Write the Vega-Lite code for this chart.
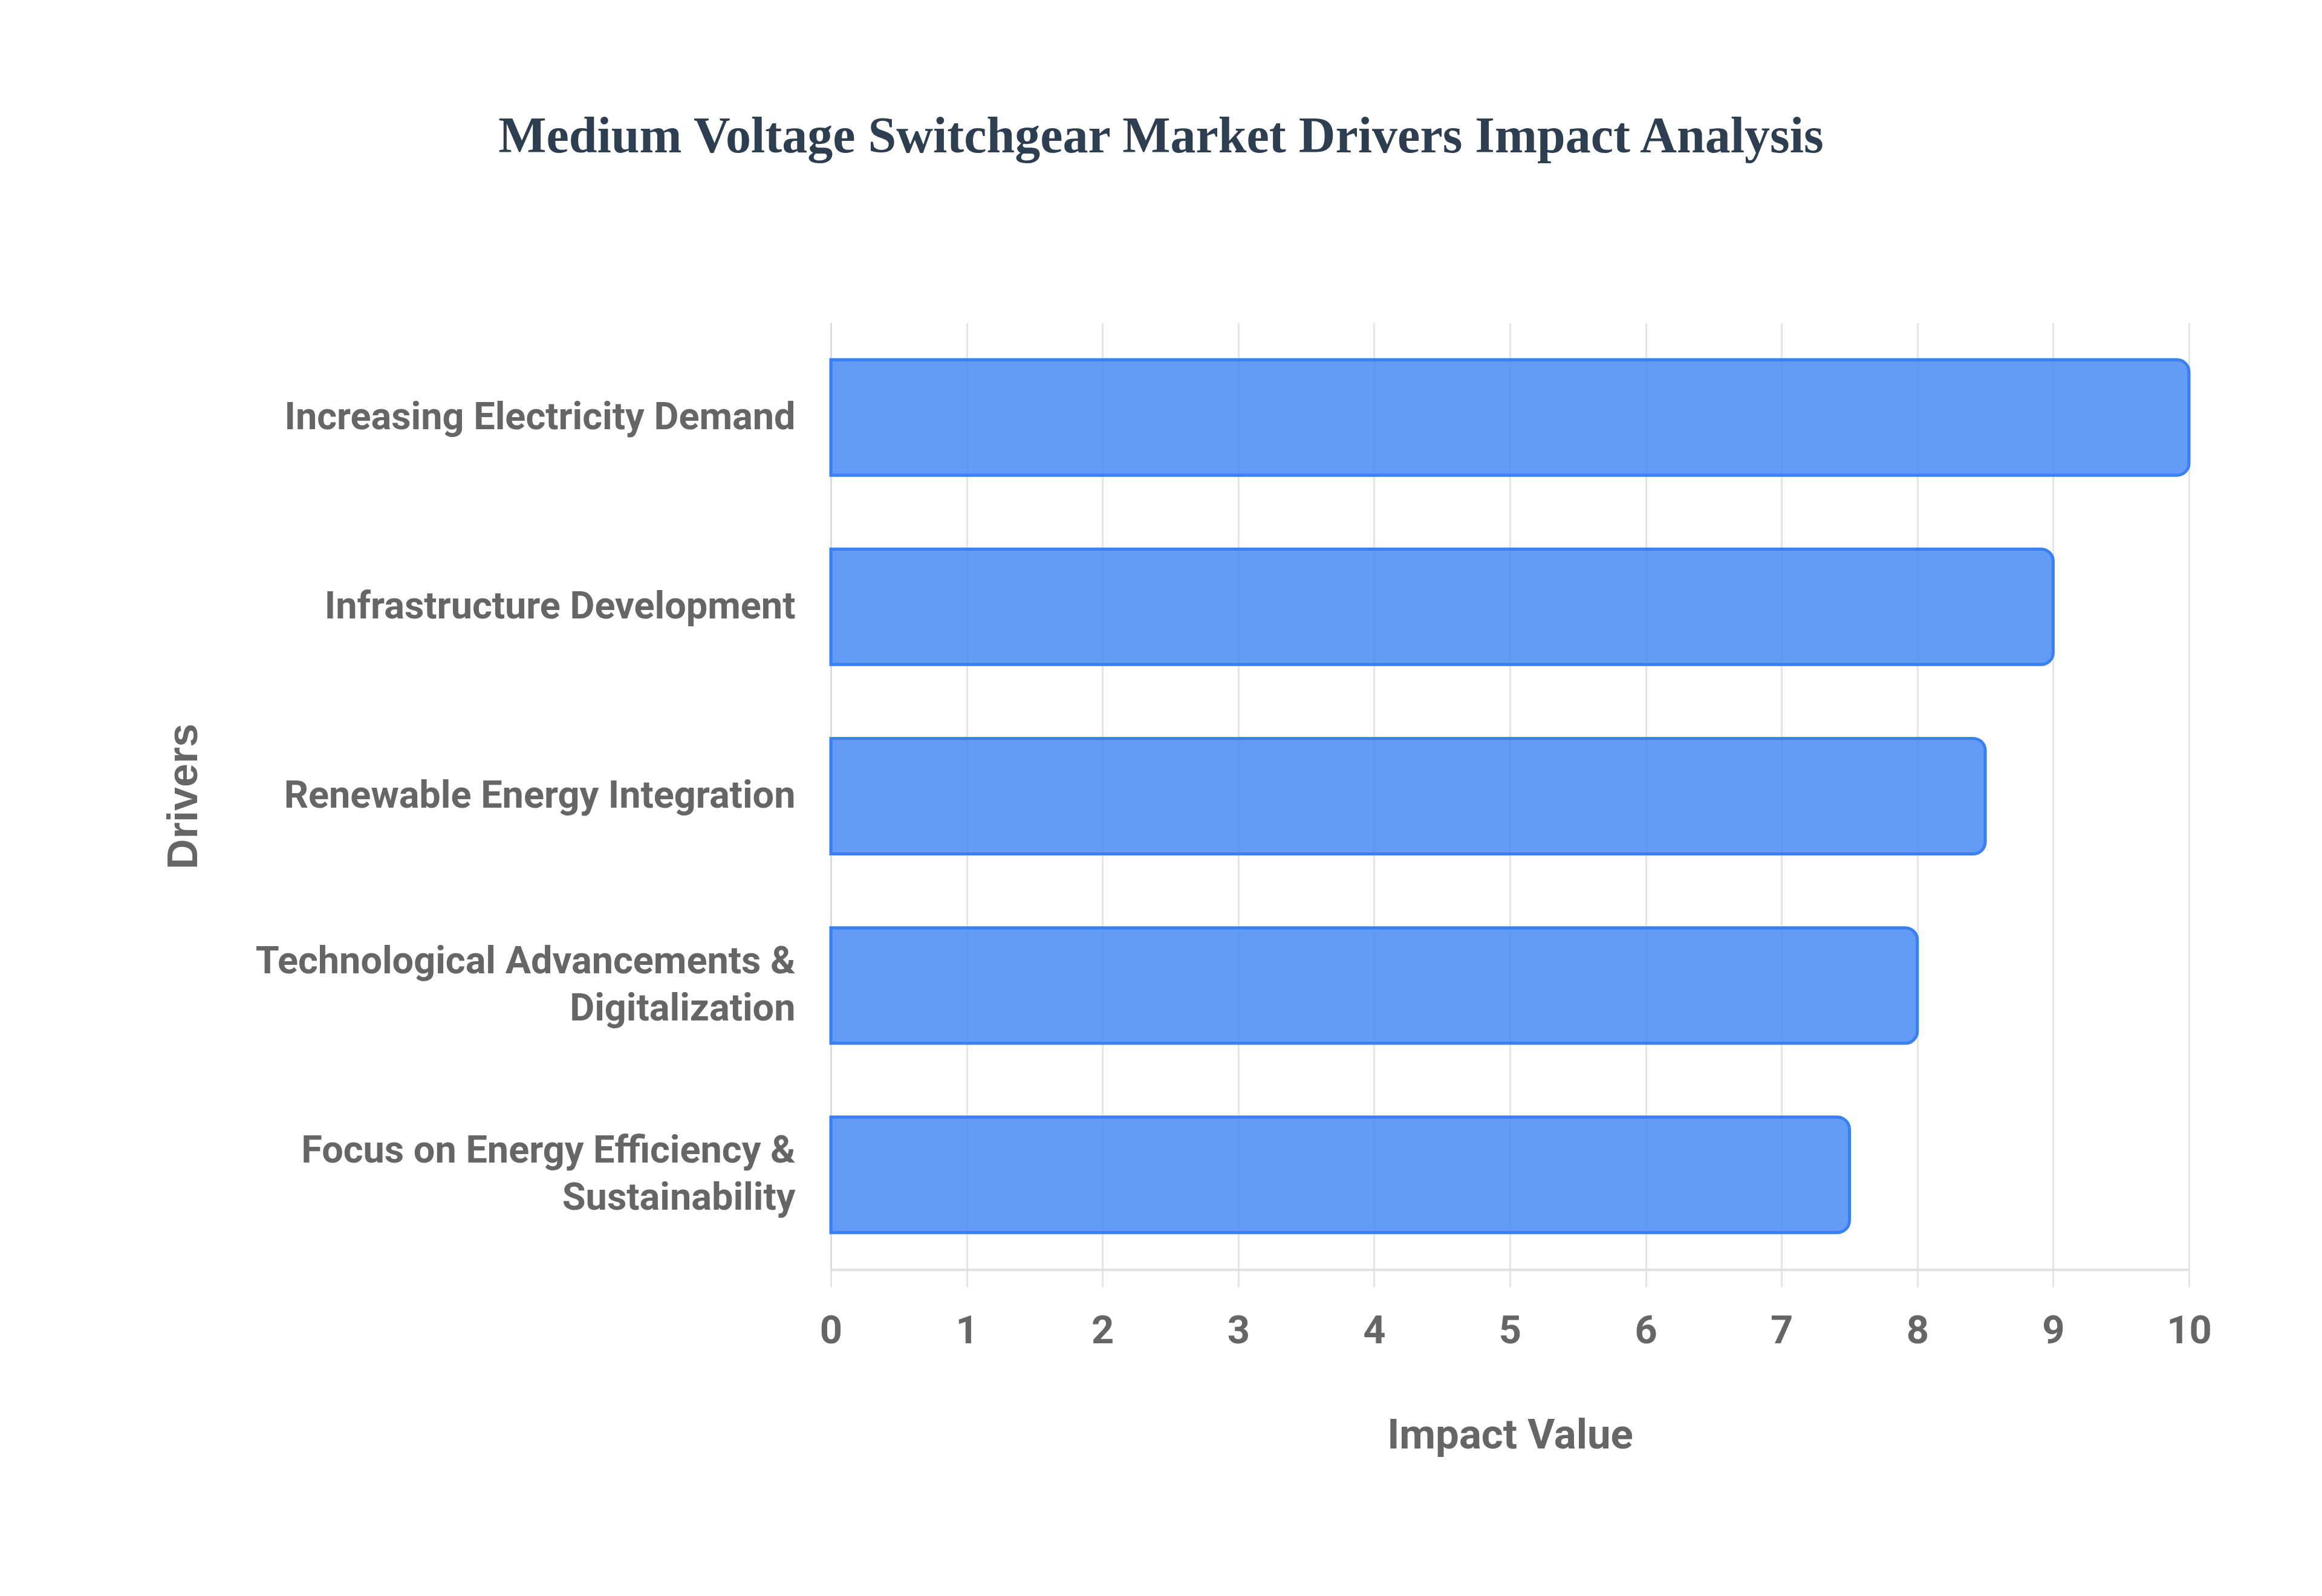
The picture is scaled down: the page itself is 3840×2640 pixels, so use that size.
{
  "$schema": "https://vega.github.io/schema/vega-lite/v6.json",
  "width": 2246,
  "height": 1566,
  "autosize": {"type": "none"},
  "padding": {"left": 1374, "top": 534, "right": 220, "bottom": 540},
  "background": "white",
  "title": {
    "text": "Medium Voltage Switchgear Market Drivers Impact Analysis",
    "font": "Liberation Serif",
    "fontSize": 84,
    "fontWeight": "bold",
    "color": "#2c3e50",
    "anchor": "middle",
    "frame": "group",
    "baseline": "alphabetic",
    "offset": 198,
    "dx": -577
  },
  "data": {
    "values": [
      {"driver": "Increasing Electricity Demand", "impact": 10},
      {"driver": "Infrastructure Development", "impact": 9},
      {"driver": "Renewable Energy Integration", "impact": 8.5},
      {"driver": "Technological Advancements & Digitalization", "impact": 8},
      {"driver": "Focus on Energy Efficiency & Sustainability", "impact": 7.5}
    ]
  },
  "mark": {
    "type": "bar",
    "fill": "#4285F4",
    "fillOpacity": 0.82,
    "stroke": "#3b80f2",
    "strokeWidth": 5,
    "cornerRadiusEnd": 20
  },
  "encoding": {
    "y": {
      "field": "driver",
      "type": "nominal",
      "sort": null,
      "scale": {"paddingInner": 0.39, "paddingOuter": 0.195},
      "axis": {
        "title": "Drivers",
        "titleFont": "Liberation Sans",
        "titleFontSize": 70,
        "titleFontWeight": "bold",
        "titleColor": "#666666",
        "titleX": -1034,
        "labelFont": "Roboto",
        "labelFontSize": 63,
        "labelFontWeight": "bold",
        "labelColor": "#666666",
        "labelPadding": 59,
        "labelLimit": 2000,
        "labelLineHeight": 78,
        "labelOffset": {"condition": {"test": "indexof(datum.value, '&') >= 0", "value": -39}, "value": 0},
        "labelExpr": "datum.value == 'Technological Advancements & Digitalization' ? ['Technological Advancements &', 'Digitalization'] : datum.value == 'Focus on Energy Efficiency & Sustainability' ? ['Focus on Energy Efficiency &', 'Sustainability'] : datum.value",
        "ticks": false,
        "domain": true,
        "domainColor": "#dddddd",
        "domainWidth": 3,
        "grid": false
      }
    },
    "x": {
      "field": "impact",
      "type": "quantitative",
      "scale": {"domain": [0, 10], "nice": false},
      "axis": {
        "title": "Impact Value",
        "titleFont": "Roboto",
        "titleFontSize": 69,
        "titleFontWeight": "bold",
        "titleColor": "#666666",
        "titlePadding": 106,
        "labelFont": "Roboto",
        "labelFontSize": 65,
        "labelFontWeight": "bold",
        "labelColor": "#666666",
        "labelPadding": 41,
        "labelFlush": false,
        "values": [0, 1, 2, 3, 4, 5, 6, 7, 8, 9, 10],
        "tickSize": 29,
        "tickColor": "#e5e5e5",
        "tickWidth": 3,
        "grid": true,
        "gridColor": "#e5e5e5",
        "gridWidth": 3,
        "domainColor": "#e0e0e0",
        "domainWidth": 4
      }
    }
  },
  "config": {
    "view": {"stroke": null}
  }
}
